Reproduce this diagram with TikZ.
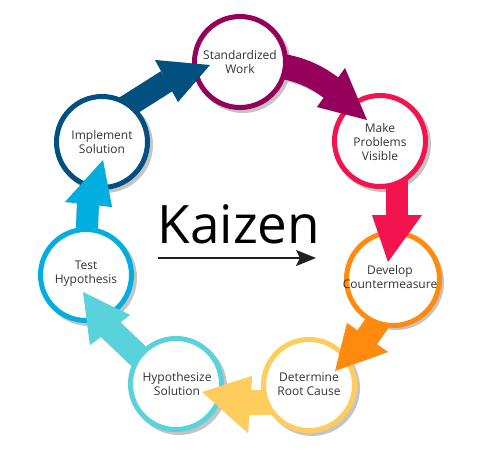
\documentclass[tikz,border=0pt]{standalone}
\usepackage{fontspec}
\setmainfont{Open Sans}
\usetikzlibrary{arrows.meta}
\definecolor{cSW}{HTML}{94005A}
\definecolor{cMP}{HTML}{F2134F}
\definecolor{cDC}{HTML}{FF8A0E}
\definecolor{cDR}{HTML}{FFCD5E}
\definecolor{cHS}{HTML}{5AD2DC}
\definecolor{cTH}{HTML}{00AEDF}
\definecolor{cIS}{HTML}{01507F}
\definecolor{txtc}{HTML}{333333}
\definecolor{shadc}{HTML}{C4C4C4}
\definecolor{kzc}{HTML}{231F20}
\begin{document}
\begin{tikzpicture}[x=1pt,y=-1pt,
  ring/.style={circle, draw=#1, line width=5pt, fill=white, minimum size=91pt, inner sep=0pt},
  lbl/.style={align=center, font=\fontsize{12}{14.3}\selectfont, text=txtc, inner sep=0pt},
  cshad/.style={fill=shadc},
  shaft/.style={line width=#1, line cap=butt},
  sshift/.style={shift={(3,3)}}
]
\useasboundingbox (0,0) rectangle (494,452);
\fill[white] (0,0) rectangle (494,452);

% circle centres
\coordinate (pSW) at (240,62);
\coordinate (pMP) at (380,141);
\coordinate (pDC) at (393,279);
\coordinate (pDR) at (309,385);
\coordinate (pHS) at (176,384);
\coordinate (pTH) at (86,275);
\coordinate (pIS) at (102,142);

% circle shadows
\foreach \p in {pSW,pMP,pDC,pDR,pHS,pTH,pIS}{
  \fill[shadc] ([shift={(3,3)}]\p) circle[radius=48pt];
}

% arrow coordinates
% 1 purple
\coordinate (s1a) at (262,64); \coordinate (s1b) at (332,88.5);
\coordinate (h1a) at (345,68); \coordinate (h1t) at (367,120); \coordinate (h1b) at (317,107);
% 2 crimson
\coordinate (s2a) at (397,160); \coordinate (s2b) at (397,217);
\coordinate (h2a) at (372,215); \coordinate (h2t) at (388,262); \coordinate (h2b) at (422,215);
% 3 orange
\coordinate (s3a) at (390,305); \coordinate (s3b) at (366,339);
\coordinate (h3a) at (347,323); \coordinate (h3t) at (335,371); \coordinate (h3b) at (388,352);
% 4 yellow
\coordinate (s4a) at (290,402); \coordinate (s4b) at (248,402);
\coordinate (h4a) at (252,376); \coordinate (h4t) at (202,392); \coordinate (h4b) at (248,433);
% 5 teal
\coordinate (s5a) at (155,372); \coordinate (s5b) at (109,328);
\coordinate (h5a) at (130,315); \coordinate (h5t) at (83,292); \coordinate (h5b) at (90,345);
% 6 light blue
\coordinate (s6a) at (86,250); \coordinate (s6b) at (88,203);
\coordinate (h6a) at (65,202); \coordinate (h6t) at (103,160); \coordinate (h6b) at (112,207);
% 7 dark blue
\coordinate (s7a) at (118,112); \coordinate (s7b) at (167,81);
\coordinate (h7a) at (155,60); \coordinate (h7t) at (210,65); \coordinate (h7b) at (178,102);

% shadows of shafts and heads
\begin{scope}[sshift]
  \draw[shaft=25pt, shadc] (s1a) .. controls (298,66) and (317,77) .. (s1b);
  \draw[shaft=22pt, shadc] (s2a) -- (s2b);
  \draw[shaft=24pt, shadc] (s3a) -- (s3b);
  \draw[shaft=25pt, shadc] (s4a) -- (s4b);
  \draw[shaft=24pt, shadc] (s5a) -- (s5b);
  \draw[shaft=22pt, shadc] (s6a) -- (s6b);
  \draw[shaft=23pt, shadc] (s7a) -- (s7b);
  \fill[shadc] (h1a) -- (h1t) -- (h1b) -- cycle;
  \fill[shadc] (h2a) -- (h2t) -- (h2b) -- cycle;
  \fill[shadc] (h3a) -- (h3t) -- (h3b) -- cycle;
  \fill[shadc] (h4a) -- (h4t) -- (h4b) -- cycle;
  \fill[shadc] (h5a) -- (h5t) -- (h5b) -- cycle;
  \fill[shadc] (h6a) -- (h6t) -- (h6b) -- cycle;
  \fill[shadc] (h7a) -- (h7t) -- (h7b) -- cycle;
\end{scope}

% shafts
\draw[shaft=25pt, cSW] (s1a) .. controls (298,66) and (317,77) .. (s1b);
\draw[shaft=22pt, cMP] (s2a) -- (s2b);
\draw[shaft=24pt, cDC] (s3a) -- (s3b);
\draw[shaft=25pt, cDR] (s4a) -- (s4b);
\draw[shaft=24pt, cHS] (s5a) -- (s5b);
\draw[shaft=22pt, cTH] (s6a) -- (s6b);
\draw[shaft=23pt, cIS] (s7a) -- (s7b);

% circles
\node[ring=cSW] (sw) at (pSW) {};
\node[ring=cMP] (mp) at (pMP) {};
\node[ring=cDC, minimum size=93pt] (dc) at (pDC) {};
\node[ring=cDR] (dr) at (pDR) {};
\node[ring=cHS] (hs) at (pHS) {};
\node[ring=cTH] (th) at (pTH) {};
\node[ring=cIS] (is) at (pIS) {};

% heads
\fill[cSW] (h1a) -- (h1t) -- (h1b) -- cycle;
\fill[cMP] (h2a) -- (h2t) -- (h2b) -- cycle;
\fill[cDC] (h3a) -- (h3t) -- (h3b) -- cycle;
\fill[cDR] (h4a) -- (h4t) -- (h4b) -- cycle;
\fill[cHS] (h5a) -- (h5t) -- (h5b) -- cycle;
\fill[cTH] (h6a) -- (h6t) -- (h6b) -- cycle;
\fill[cIS] (h7a) -- (h7t) -- (h7b) -- cycle;

% labels
\node[lbl] (swt) at (240,62) {Standardized\\Work};
\node[lbl] (mpt) at (380,142) {Make\\Problems\\Visible};
\node[lbl] (dct) at (390,277) {Develop\\Countermeasure};
\node[lbl] (drt) at (309,384) {Determine\\Root Cause};
\node[lbl] (hst) at (177,384) {Hypothesize\\Solution};
\node[lbl] (tht) at (86,274) {Test\\Hypothesis};
\node[lbl] (ist) at (102,142) {Implement\\Solution};

% title
\node[anchor=base, inner sep=0pt, text=black, font=\fontsize{53}{60}\selectfont] (kz) at (239,243) {Kaizen};
\coordinate (ka) at (158,258);
\coordinate (kb) at (316,258);
\draw[kzc, line width=2pt, -{Stealth[length=20pt, width=16pt, inset=4pt]}] (ka) -- (kb);
\end{tikzpicture}
\end{document}
